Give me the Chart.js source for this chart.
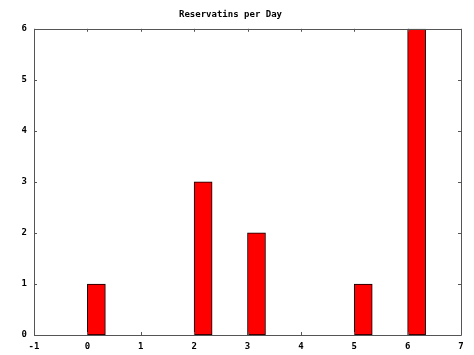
<!DOCTYPE html>
<html><head><meta charset="utf-8">
<script src="https://cdn.jsdelivr.net/npm/chart.js@4"></script>
<style>html,body{margin:0;padding:0;background:#fff}#w{width:474px;height:355px}</style>
</head><body><div id="w"><canvas id="c" width="474" height="355"></canvas></div>
<script>
const days = [0, 2, 3, 5, 6];
const reservations = [1, 3, 2, 1, 6];
const xTicks = [-1, 0, 1, 2, 3, 4, 5, 6, 7];
const yTicks = [0, 1, 2, 3, 4, 5, 6];
const titleText = 'Reservatins per Day';

const BAR_W = 0.337; // bar width in x units
const FONT = {family: '"DejaVu Sans Mono", "Liberation Mono", monospace', size: 9, weight: 'bold'};

const frame = {
  id: 'frame',
  afterDatasetsDraw(chart) {
    const {ctx, chartArea: a, scales} = chart;
    ctx.save();
    ctx.strokeStyle = '#555';
    ctx.lineWidth = 1;
    ctx.beginPath();
    ctx.rect(Math.round(a.left) + 0.5, Math.round(a.top) + 0.5, Math.round(a.right - a.left), Math.round(a.bottom - a.top));
    ctx.stroke();
    const L = 3;
    ctx.beginPath();
    xTicks.forEach(v => {
      const p = Math.round(scales.x.getPixelForValue(v)) + 0.5;
      ctx.moveTo(p, a.bottom); ctx.lineTo(p, a.bottom - L);
      ctx.moveTo(p, a.top); ctx.lineTo(p, a.top + L);
    });
    yTicks.forEach(v => {
      const p = Math.round(scales.y.getPixelForValue(v)) + 0.5;
      ctx.moveTo(a.left, p); ctx.lineTo(a.left + L, p);
      ctx.moveTo(a.right, p); ctx.lineTo(a.right - L, p);
    });
    ctx.stroke();
    ctx.restore();
  }
};

new Chart(document.getElementById('c'), {
  type: 'bar',
  data: {
    datasets: [{
      data: days.map((d, i) => ({x: d, y: reservations[i]})),
      xAxisID: 'xb',
      backgroundColor: '#ff0000',
      borderColor: '#000000',
      borderWidth: 1,
      borderSkipped: false,
      barThickness: 18
    }]
  },
  options: {
    responsive: false,
    animation: false,
    devicePixelRatio: 1,
    layout: {padding: {left: 0, right: 13, top: 0, bottom: 0}},
    plugins: {
      legend: {display: false},
      tooltip: {enabled: false},
      title: {display: true, text: titleText, color: '#000', font: FONT, padding: {top: 9, bottom: 9}}
    },
    scales: {
      x: {
        type: 'linear', min: -1, max: 7, offset: false,
        afterBuildTicks: s => { s.ticks = xTicks.map(v => ({value: v})); },
        afterFit: s => { s.height = 20; },
        grid: {display: false, drawTicks: false}, border: {display: false},
        ticks: {color: '#000', font: FONT, padding: 6, maxRotation: 0}
      },
      xb: {
        type: 'linear', display: false, offset: false,
        min: -1 - BAR_W / 2, max: 7 - BAR_W / 2
      },
      y: {
        min: 0, max: 6,
        afterBuildTicks: s => { s.ticks = yTicks.map(v => ({value: v})); },
        afterFit: s => { s.width = 34; },
        grid: {display: false, drawTicks: false}, border: {display: false},
        ticks: {color: '#000', font: FONT, padding: 7}
      }
    }
  },
  plugins: [frame]
});
</script></body></html>
